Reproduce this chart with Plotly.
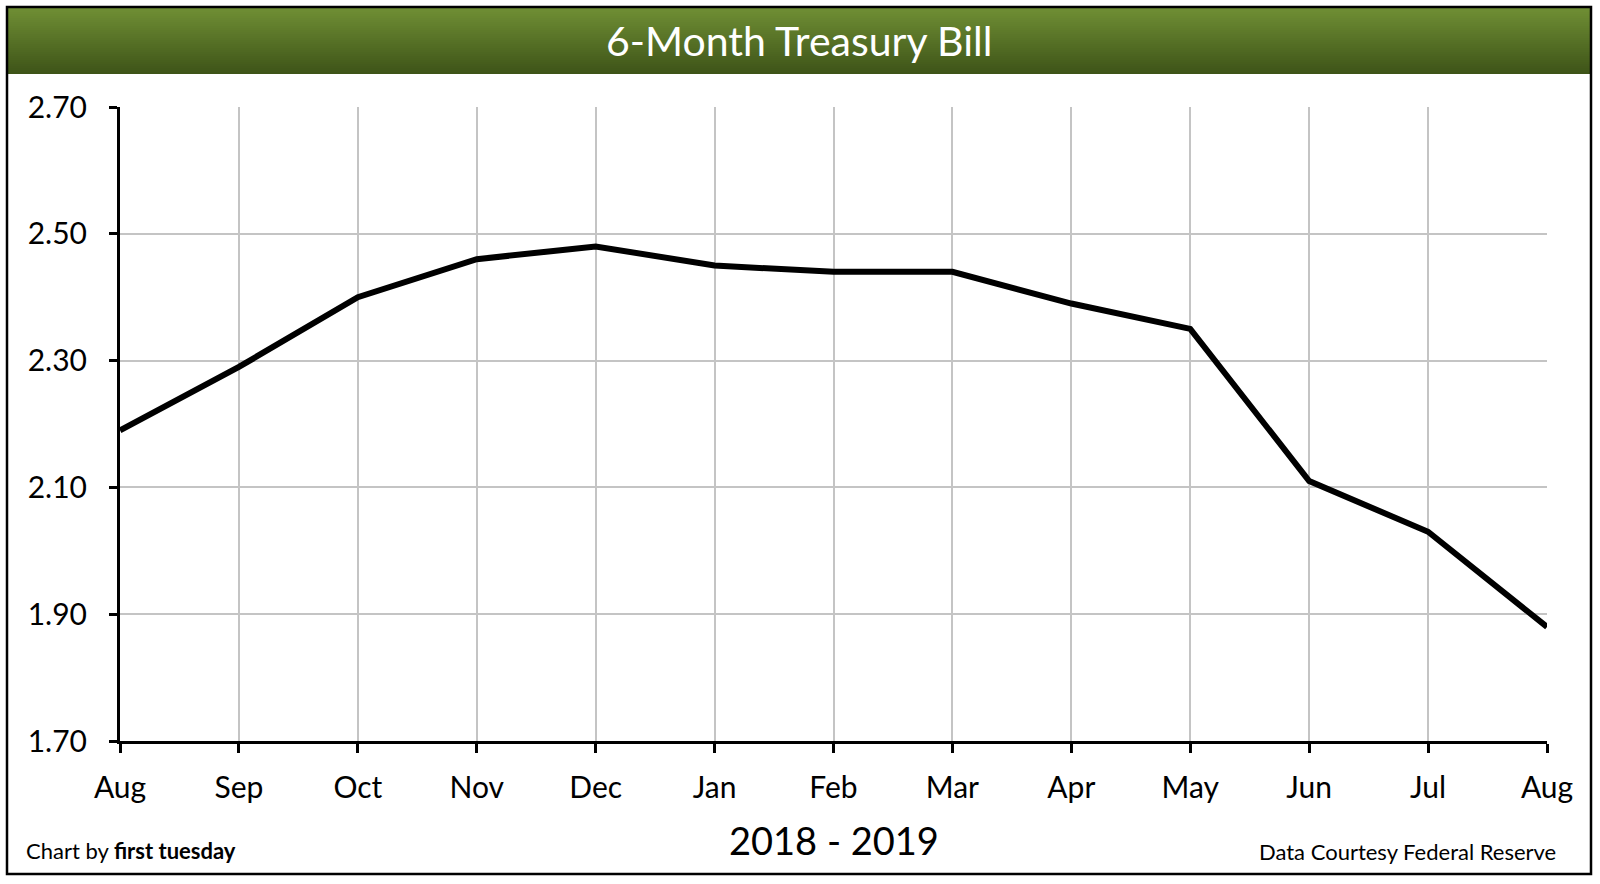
import plotly.graph_objects as go

months = ["Aug", "Sep", "Oct", "Nov", "Dec", "Jan", "Feb", "Mar", "Apr", "May", "Jun", "Jul", "Aug"]
rates = [2.19, 2.29, 2.40, 2.46, 2.48, 2.45, 2.44, 2.44, 2.39, 2.35, 2.11, 2.03, 1.88]
y_ticks = [1.70, 1.90, 2.10, 2.30, 2.50, 2.70]
title_text = "6-Month Treasury Bill"
x_title = "2018 - 2019"
credit_left = "Chart by <b>first tuesday</b>"
credit_right = "Data Courtesy Federal Reserve"

W, H = 1600, 884
L, R, T, B = 120, 1547, 107, 741
FONT = "Lato"


def px(x):
    return (x - L) / (R - L)


def py(y):
    return (B - y) / (B - T)


x_idx = list(range(len(months)))

fig = go.Figure()
fig.add_trace(go.Scatter(
    x=x_idx, y=rates, mode="lines",
    line=dict(color="black", width=6),
    hoverinfo="skip", showlegend=False, cliponaxis=False,
))

shapes = []
# title bar gradient
top_c = (111, 142, 52)
bot_c = (62, 84, 24)
y0, y1 = 8, 74
n = 33
for i in range(n):
    t = i / (n - 1)
    c = tuple(int(round(top_c[k] + (bot_c[k] - top_c[k]) * t)) for k in range(3))
    ya = y0 + (y1 - y0) * i / n
    yb = y0 + (y1 - y0) * (i + 1) / n + 0.6
    shapes.append(dict(type="rect", xref="paper", yref="paper",
                       x0=px(8), x1=px(1590), y0=py(ya), y1=py(min(yb, y1)),
                       fillcolor="rgb(%d,%d,%d)" % c, line=dict(width=0), layer="below"))
# outer border
shapes.append(dict(type="rect", xref="paper", yref="paper",
                   x0=px(7), x1=px(1591), y0=py(7), y1=py(874),
                   line=dict(color="black", width=2.5), fillcolor="rgba(0,0,0,0)"))

annotations = [
    dict(text=title_text, xref="paper", yref="paper", x=px(799), y=py(41),
         xanchor="center", yanchor="middle", showarrow=False,
         font=dict(family=FONT, size=41, color="white")),
    dict(text=x_title, xref="paper", yref="paper", x=px(834), y=py(840),
         xanchor="center", yanchor="middle", showarrow=False,
         font=dict(family=FONT, size=38, color="black")),
    dict(text=credit_left, xref="paper", yref="paper", x=px(24), y=py(850),
         xanchor="left", yanchor="middle", showarrow=False,
         font=dict(family=FONT, size=22, color="black")),
    dict(text=credit_right, xref="paper", yref="paper", x=px(1558), y=py(851),
         xanchor="right", yanchor="middle", showarrow=False,
         font=dict(family=FONT, size=22, color="black")),
]

fig.update_layout(
    width=W, height=H,
    margin=dict(l=L, r=W - R, t=T, b=H - B, pad=0),
    paper_bgcolor="white", plot_bgcolor="white",
    shapes=shapes, annotations=annotations,
    font=dict(family=FONT, color="black"),
)
fig.update_xaxes(
    range=[0, len(months) - 1], tickmode="array", tickvals=x_idx, ticktext=months,
    showgrid=True, gridcolor="#c4c4c4", gridwidth=2,
    showline=True, linecolor="black", linewidth=3,
    ticks="outside", ticklen=9, tickwidth=3, tickcolor="black",
    tickfont=dict(family=FONT, size=30, color="black"),
    ticklabelstandoff=9, zeroline=False, fixedrange=True,
)
fig.update_yaxes(
    range=[1.70, 2.70], tickmode="array", tickvals=y_ticks,
    ticktext=["%.2f" % v for v in y_ticks],
    showgrid=True, gridcolor="#c4c4c4", gridwidth=2,
    showline=True, linecolor="black", linewidth=3,
    ticks="outside", ticklen=8, tickwidth=3, tickcolor="black",
    tickfont=dict(family=FONT, size=30, color="black"),
    ticklabelstandoff=16, zeroline=False, fixedrange=True,
)

fig.write_html("out.html", config=dict(displayModeBar=False))
